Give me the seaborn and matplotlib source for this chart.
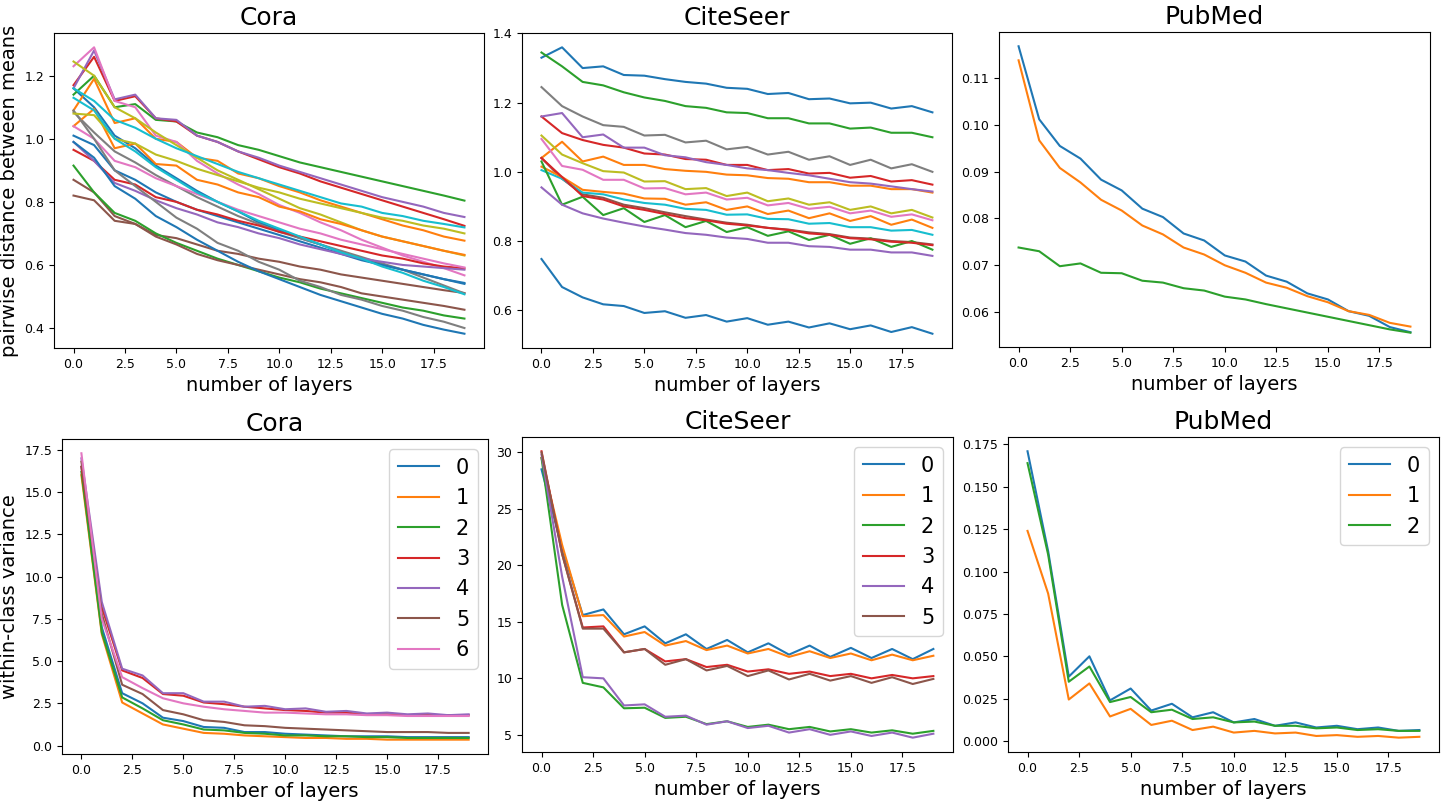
import numpy as np
import matplotlib
matplotlib.use("Agg")
import matplotlib.pyplot as plt
import seaborn as sns

layers = np.arange(20)

# pairwise distance between class means (top row)
cora_dist = [
    [1.16, 1.10, 1.01, 0.97, 0.915, 0.875, 0.835, 0.80, 0.77, 0.735, 0.71, 0.685, 0.665, 0.64, 0.62, 0.60, 0.585, 0.57, 0.555, 0.543],
    [1.09, 1.19, 1.05, 1.065, 1.00, 0.99, 0.94, 0.93, 0.89, 0.875, 0.85, 0.83, 0.805, 0.785, 0.765, 0.745, 0.725, 0.71, 0.69, 0.677],
    [1.14, 1.20, 1.10, 1.11, 1.06, 1.055, 1.02, 1.005, 0.98, 0.965, 0.945, 0.925, 0.91, 0.895, 0.88, 0.865, 0.85, 0.835, 0.82, 0.804],
    [1.17, 1.26, 1.12, 1.135, 1.065, 1.055, 1.01, 0.99, 0.96, 0.935, 0.91, 0.89, 0.865, 0.845, 0.825, 0.805, 0.785, 0.765, 0.745, 0.724],
    [1.16, 1.28, 1.125, 1.14, 1.065, 1.06, 1.01, 0.99, 0.96, 0.94, 0.915, 0.895, 0.875, 0.855, 0.835, 0.815, 0.80, 0.785, 0.765, 0.752],
    [0.87, 0.83, 0.755, 0.73, 0.695, 0.685, 0.665, 0.645, 0.635, 0.62, 0.61, 0.595, 0.585, 0.57, 0.56, 0.55, 0.54, 0.53, 0.52, 0.511],
    [1.23, 1.29, 1.12, 1.10, 1.01, 0.99, 0.93, 0.89, 0.855, 0.825, 0.79, 0.765, 0.735, 0.71, 0.68, 0.655, 0.63, 0.61, 0.59, 0.567],
    [1.085, 1.02, 0.96, 0.925, 0.885, 0.85, 0.815, 0.785, 0.755, 0.73, 0.705, 0.685, 0.665, 0.645, 0.625, 0.605, 0.585, 0.56, 0.535, 0.51],
    [1.245, 1.20, 1.10, 1.065, 1.02, 0.98, 0.94, 0.90, 0.87, 0.84, 0.81, 0.78, 0.76, 0.735, 0.71, 0.69, 0.675, 0.66, 0.645, 0.63],
    [1.16, 1.12, 1.06, 1.035, 1.00, 0.97, 0.945, 0.92, 0.895, 0.875, 0.855, 0.835, 0.815, 0.795, 0.785, 0.765, 0.755, 0.74, 0.73, 0.719],
    [1.01, 0.98, 0.90, 0.87, 0.83, 0.80, 0.775, 0.755, 0.735, 0.715, 0.695, 0.675, 0.655, 0.635, 0.615, 0.60, 0.585, 0.57, 0.555, 0.540],
    [1.04, 1.095, 0.97, 0.985, 0.92, 0.915, 0.87, 0.855, 0.83, 0.815, 0.785, 0.77, 0.745, 0.73, 0.71, 0.69, 0.675, 0.66, 0.645, 0.632],
    [0.915, 0.83, 0.765, 0.74, 0.70, 0.67, 0.645, 0.62, 0.60, 0.58, 0.56, 0.545, 0.525, 0.51, 0.495, 0.48, 0.465, 0.455, 0.44, 0.43],
    [0.965, 0.93, 0.87, 0.855, 0.815, 0.80, 0.775, 0.76, 0.74, 0.725, 0.705, 0.69, 0.675, 0.66, 0.645, 0.63, 0.62, 0.605, 0.595, 0.589],
    [0.99, 0.93, 0.86, 0.835, 0.805, 0.78, 0.76, 0.735, 0.72, 0.70, 0.685, 0.665, 0.65, 0.635, 0.62, 0.61, 0.60, 0.595, 0.59, 0.585],
    [0.82, 0.805, 0.74, 0.73, 0.69, 0.665, 0.635, 0.615, 0.60, 0.585, 0.57, 0.555, 0.545, 0.53, 0.51, 0.50, 0.49, 0.48, 0.47, 0.458],
    [1.04, 1.00, 0.93, 0.91, 0.875, 0.85, 0.825, 0.80, 0.775, 0.755, 0.735, 0.715, 0.70, 0.68, 0.665, 0.65, 0.635, 0.62, 0.605, 0.592],
    [1.09, 1.00, 0.90, 0.85, 0.80, 0.75, 0.715, 0.67, 0.645, 0.61, 0.585, 0.55, 0.53, 0.505, 0.49, 0.47, 0.455, 0.435, 0.42, 0.40],
    [1.08, 1.075, 1.00, 0.985, 0.95, 0.93, 0.905, 0.885, 0.865, 0.845, 0.83, 0.81, 0.795, 0.78, 0.765, 0.75, 0.74, 0.725, 0.715, 0.70],
    [1.13, 1.09, 1.00, 0.96, 0.91, 0.87, 0.83, 0.80, 0.77, 0.74, 0.715, 0.69, 0.665, 0.64, 0.62, 0.595, 0.575, 0.55, 0.53, 0.507],
    [0.99, 0.94, 0.85, 0.81, 0.755, 0.72, 0.68, 0.645, 0.61, 0.58, 0.555, 0.53, 0.505, 0.485, 0.465, 0.445, 0.43, 0.41, 0.395, 0.382],
]

citeseer_dist = [
    [1.33, 1.36, 1.30, 1.305, 1.28, 1.278, 1.268, 1.26, 1.255, 1.243, 1.24, 1.225, 1.228, 1.21, 1.212, 1.198, 1.20, 1.183, 1.19, 1.172],
    [1.04, 1.087, 1.03, 1.044, 1.02, 1.02, 1.008, 1.003, 1.00, 0.992, 0.99, 0.982, 0.98, 0.97, 0.97, 0.96, 0.96, 0.95, 0.95, 0.94],
    [1.345, 1.305, 1.26, 1.25, 1.23, 1.215, 1.205, 1.19, 1.185, 1.172, 1.17, 1.155, 1.155, 1.14, 1.14, 1.125, 1.128, 1.113, 1.113, 1.10],
    [1.16, 1.112, 1.092, 1.078, 1.07, 1.053, 1.05, 1.037, 1.035, 1.02, 1.02, 1.005, 1.008, 0.995, 0.997, 0.983, 0.988, 0.972, 0.976, 0.963],
    [1.16, 1.17, 1.10, 1.108, 1.07, 1.07, 1.048, 1.042, 1.028, 1.02, 1.01, 1.005, 0.997, 0.99, 0.98, 0.97, 0.966, 0.958, 0.95, 0.943],
    [1.04, 0.98, 0.935, 0.925, 0.905, 0.895, 0.883, 0.872, 0.862, 0.853, 0.847, 0.838, 0.833, 0.825, 0.82, 0.81, 0.807, 0.80, 0.797, 0.79],
    [1.095, 1.017, 1.006, 0.977, 0.977, 0.952, 0.953, 0.935, 0.94, 0.92, 0.925, 0.903, 0.91, 0.893, 0.899, 0.88, 0.888, 0.87, 0.877, 0.86],
    [1.245, 1.19, 1.16, 1.135, 1.13, 1.105, 1.107, 1.085, 1.09, 1.065, 1.072, 1.05, 1.058, 1.035, 1.045, 1.02, 1.035, 1.01, 1.022, 1.00],
    [1.105, 1.05, 1.025, 1.002, 0.998, 0.972, 0.973, 0.95, 0.953, 0.93, 0.94, 0.915, 0.923, 0.905, 0.912, 0.89, 0.90, 0.88, 0.89, 0.868],
    [1.005, 0.98, 0.94, 0.935, 0.92, 0.91, 0.905, 0.893, 0.89, 0.876, 0.877, 0.864, 0.863, 0.85, 0.852, 0.84, 0.84, 0.83, 0.832, 0.818],
    [0.748, 0.667, 0.637, 0.617, 0.612, 0.592, 0.597, 0.578, 0.586, 0.567, 0.577, 0.558, 0.567, 0.55, 0.562, 0.545, 0.556, 0.537, 0.551, 0.532],
    [1.015, 0.985, 0.948, 0.942, 0.937, 0.923, 0.922, 0.905, 0.912, 0.89, 0.90, 0.878, 0.888, 0.866, 0.88, 0.858, 0.872, 0.847, 0.862, 0.838],
    [1.03, 0.905, 0.928, 0.875, 0.895, 0.855, 0.875, 0.84, 0.858, 0.826, 0.84, 0.815, 0.828, 0.803, 0.818, 0.792, 0.808, 0.783, 0.80, 0.775],
    [1.04, 0.985, 0.93, 0.92, 0.90, 0.89, 0.878, 0.866, 0.86, 0.85, 0.845, 0.838, 0.832, 0.822, 0.818, 0.808, 0.805, 0.798, 0.795, 0.788],
    [0.955, 0.905, 0.88, 0.865, 0.853, 0.842, 0.833, 0.823, 0.818, 0.81, 0.806, 0.795, 0.795, 0.785, 0.783, 0.775, 0.775, 0.767, 0.767, 0.757],
]

pubmed_dist = [
    [0.1168, 0.1012, 0.0955, 0.0928, 0.0883, 0.0860, 0.0821, 0.0803, 0.0768, 0.0753, 0.0721, 0.0708, 0.0678, 0.0665, 0.0640, 0.0627, 0.0602, 0.0592, 0.0568, 0.0557],
    [0.1138, 0.0967, 0.0908, 0.0877, 0.0840, 0.0817, 0.0785, 0.0766, 0.0738, 0.0723, 0.0700, 0.0684, 0.0663, 0.0652, 0.0634, 0.0621, 0.0602, 0.0594, 0.0577, 0.0569],
    [0.0738, 0.0730, 0.0698, 0.0704, 0.0684, 0.0683, 0.0667, 0.0663, 0.0651, 0.0646, 0.0633, 0.0627, 0.0617, 0.0608, 0.0599, 0.0590, 0.0581, 0.0572, 0.0563, 0.0556],
]

# within-class variance (bottom row)
cora_var = [
    [16.5, 7.0, 3.1, 2.5, 1.65, 1.45, 1.1, 1.05, 0.8, 0.8, 0.7, 0.65, 0.6, 0.55, 0.55, 0.55, 0.5, 0.5, 0.5, 0.5],
    [16.0, 6.6, 2.55, 1.9, 1.25, 1.0, 0.75, 0.7, 0.6, 0.55, 0.5, 0.45, 0.45, 0.4, 0.4, 0.35, 0.35, 0.35, 0.35, 0.35],
    [16.2, 6.7, 2.85, 2.2, 1.5, 1.25, 0.95, 0.9, 0.75, 0.7, 0.6, 0.6, 0.55, 0.55, 0.5, 0.5, 0.45, 0.45, 0.45, 0.45],
    [16.5, 8.2, 4.45, 4.0, 3.05, 2.95, 2.55, 2.45, 2.3, 2.2, 2.1, 2.05, 1.95, 1.95, 1.85, 1.85, 1.8, 1.8, 1.8, 1.8],
    [17.0, 8.5, 4.55, 4.15, 3.1, 3.1, 2.6, 2.6, 2.3, 2.35, 2.15, 2.2, 2.0, 2.05, 1.9, 1.95, 1.85, 1.9, 1.8, 1.85],
    [16.8, 7.8, 3.6, 3.05, 2.1, 1.85, 1.5, 1.4, 1.2, 1.15, 1.05, 1.0, 0.95, 0.9, 0.85, 0.8, 0.8, 0.8, 0.75, 0.75],
    [17.3, 7.5, 4.05, 3.4, 2.8, 2.5, 2.3, 2.15, 2.05, 1.95, 1.95, 1.9, 1.85, 1.85, 1.8, 1.8, 1.75, 1.75, 1.75, 1.75],
]

citeseer_var = [
    [28.5, 21.5, 15.6, 16.1, 13.9, 14.6, 13.1, 13.9, 12.6, 13.4, 12.3, 13.1, 12.1, 12.9, 11.9, 12.7, 11.8, 12.6, 11.7, 12.6],
    [29.5, 21.8, 15.5, 15.6, 13.7, 14.1, 12.9, 13.3, 12.5, 12.9, 12.2, 12.6, 11.9, 12.4, 11.8, 12.2, 11.6, 12.1, 11.6, 12.0],
    [29.5, 16.5, 9.6, 9.2, 7.35, 7.4, 6.5, 6.6, 5.95, 6.2, 5.7, 5.9, 5.5, 5.7, 5.3, 5.5, 5.2, 5.4, 5.1, 5.35],
    [30.1, 21.0, 14.5, 14.6, 12.3, 12.6, 11.5, 11.7, 11.0, 11.2, 10.6, 10.8, 10.4, 10.6, 10.2, 10.4, 10.0, 10.3, 10.0, 10.2],
    [29.8, 19.0, 10.1, 10.0, 7.6, 7.7, 6.6, 6.7, 5.9, 6.2, 5.6, 5.8, 5.2, 5.5, 5.0, 5.3, 4.9, 5.2, 4.75, 5.1],
    [30.0, 21.0, 14.4, 14.4, 12.3, 12.6, 11.2, 11.7, 10.7, 11.1, 10.2, 10.7, 9.9, 10.4, 9.8, 10.2, 9.6, 10.1, 9.5, 9.95],
]

pubmed_var = [
    [0.171, 0.112, 0.038, 0.050, 0.024, 0.031, 0.018, 0.022, 0.014, 0.017, 0.011, 0.013, 0.009, 0.011, 0.008, 0.009, 0.007, 0.008, 0.006, 0.0065],
    [0.124, 0.087, 0.0245, 0.034, 0.0145, 0.019, 0.0095, 0.012, 0.0065, 0.0085, 0.005, 0.006, 0.0045, 0.005, 0.003, 0.0035, 0.0025, 0.003, 0.002, 0.0025],
    [0.164, 0.110, 0.035, 0.044, 0.023, 0.026, 0.017, 0.0185, 0.013, 0.014, 0.011, 0.0115, 0.009, 0.009, 0.0075, 0.008, 0.0065, 0.007, 0.006, 0.006],
]

datasets = ['Cora', 'CiteSeer', 'PubMed']
dist_data = [cora_dist, citeseer_dist, pubmed_dist]
var_data = [cora_var, citeseer_var, pubmed_var]

colors = sns.color_palette('tab10', 10)

fig = plt.figure(figsize=(14.43, 8.01), dpi=100)
# axes boxes [left, bottom, width, height] in figure fraction
top_pos = [[0.0374, 0.5655, 0.298, 0.3933],
           [0.3617, 0.5655, 0.298, 0.3933],
           [0.6923, 0.5668, 0.2987, 0.3933]]
bot_pos = [[0.0430, 0.0587, 0.2952, 0.3933],
           [0.3617, 0.0612, 0.2987, 0.3933],
           [0.6985, 0.0612, 0.2987, 0.3933]]

for k in range(3):
    ax = fig.add_axes(top_pos[k])
    for i, vals in enumerate(dist_data[k]):
        sns.lineplot(x=layers, y=vals, ax=ax, color=colors[i % 10], linewidth=1.5)
    ax.set_title(datasets[k], fontsize=18)
    ax.set_xlabel('number of layers', fontsize=14)
    ax.tick_params(labelsize=9)
    if k == 0:
        ax.set_ylabel('pairwise distance between means', fontsize=14)

    ax = fig.add_axes(bot_pos[k])
    for i, vals in enumerate(var_data[k]):
        sns.lineplot(x=layers, y=vals, ax=ax, color=colors[i % 10], linewidth=1.5, label=str(i))
    ax.legend(loc='upper right', fontsize=15)
    ax.set_title(datasets[k], fontsize=18)
    ax.set_xlabel('number of layers', fontsize=14)
    ax.tick_params(labelsize=9)
    if k == 0:
        ax.set_ylabel('within-class variance', fontsize=14)

fig.savefig('out.png', dpi=100)
